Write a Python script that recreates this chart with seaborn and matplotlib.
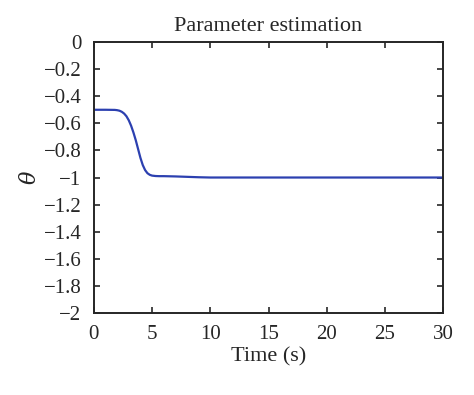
import matplotlib
matplotlib.use("Agg")
import matplotlib.pyplot as plt
import seaborn as sns
import pandas as pd

# --- data ---
time_s = [0, 1, 1.8, 2.0, 2.2, 2.4, 2.6, 2.8, 3.0, 3.2, 3.4, 3.6, 3.8, 4.0, 4.2,
          4.4, 4.6, 4.8, 5.0, 5.3, 5.6, 6, 7, 8, 9, 10, 12, 15, 20, 25, 30]
theta = [-0.500, -0.500, -0.501, -0.503, -0.507, -0.515, -0.528, -0.548, -0.578,
         -0.618, -0.668, -0.725, -0.790, -0.855, -0.908, -0.945, -0.968, -0.980,
         -0.986, -0.989, -0.990, -0.990, -0.992, -0.995, -0.998, -1.0, -1.0, -1.0,
         -1.0, -1.0, -1.0]

x_ticks = [0, 5, 10, 15, 20, 25, 30]
y_ticks = [0, -0.2, -0.4, -0.6, -0.8, -1, -1.2, -1.4, -1.6, -1.8, -2]

LINE_COLOR = "#2c40b0"

sns.set_style("ticks")
plt.rcParams['font.family'] = ['Liberation Serif', 'DejaVu Serif']
plt.rcParams['mathtext.fontset'] = 'dejavuserif'

df = pd.DataFrame({"t": time_s, "theta": theta})

fig = plt.figure(figsize=(4.74, 3.95), dpi=100)
ax = fig.add_axes([0.198, 0.2076, 0.737, 0.686])

sns.lineplot(data=df, x="t", y="theta", ax=ax, color=LINE_COLOR, linewidth=1.6)

ax.set_xlim(0, 30)
ax.set_ylim(-2, 0)
ax.set_xticks(x_ticks)
ax.set_yticks(y_ticks)
ax.set_yticklabels([f"{v:g}".replace("-", "\u2212") for v in y_ticks])
ax.tick_params(direction="in", top=True, right=True, length=4, width=1.2,
               labelsize=15)
ax.tick_params(axis="x", pad=9)
ax.tick_params(axis="y", pad=9)
for s in ax.spines.values():
    s.set_linewidth(1.4)
    s.set_visible(True)

ax.set_title("Parameter estimation", fontsize=16, pad=8)
ax.set_xlabel("Time (s)", fontsize=16, labelpad=2)
ax.set_ylabel(r"$\theta$", fontsize=16, labelpad=2)

fig.savefig("out.png", dpi=100)
